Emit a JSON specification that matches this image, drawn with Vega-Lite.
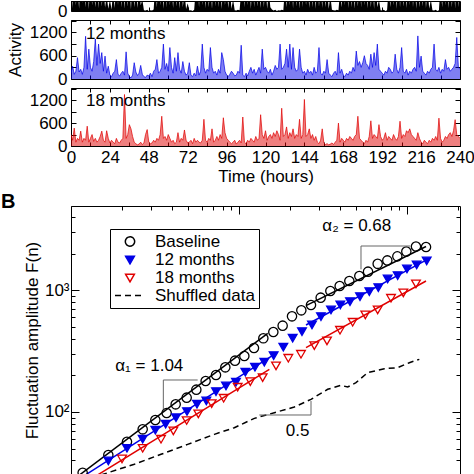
{
"$schema":"https://vega.github.io/schema/vega-lite/v6.json",
"padding":0,
"background":"white",
"bounds":"flush",
"spacing":9,
"config":{
 "font":"Liberation Sans",
 "view":{"stroke":"black","strokeWidth":1},
 "axis":{"domain":false,"grid":false,"ticks":true,"tickColor":"black","tickWidth":1,"tickSize":-5,"labelPadding":9,"labelFontSize":17,"labelColor":"black","labelFont":"Liberation Sans","titleFont":"Liberation Sans","titleFontSize":17,"titleFontWeight":"normal","titleColor":"black","labelFlush":false,"labelOverlap":false},
 "legend":{"labelFontSize":17,"labelFont":"Liberation Sans","labelColor":"black","padding":4,"strokeColor":"black","fillColor":"white","rowPadding":0,"labelOffset":9,"symbolStrokeWidth":1.5,"clipHeight":17,"symbolSize":900}
},
"datasets":{
 "ts":[
{"t":0,"a":900,"b":150,"c":300},{"t":1,"a":80,"b":330,"c":150},{"t":2,"a":1100,"b":120,"c":470},{"t":3,"a":150,"b":200,"c":100},{"t":4,"a":700,"b":550,"c":200},{"t":5,"a":60,"b":180,"c":150},{"t":6,"a":1200,"b":250,"c":390},{"t":7,"a":200,"b":120,"c":100},{"t":8,"a":800,"b":300,"c":200},{"t":9,"a":100,"b":1100,"c":150},
{"t":10,"a":950,"b":250,"c":520},{"t":11,"a":50,"b":770,"c":100},{"t":12,"a":1000,"b":300,"c":200},{"t":13,"a":150,"b":200,"c":300},{"t":14,"a":600,"b":450,"c":120},{"t":15,"a":100,"b":1030,"c":200},{"t":16,"a":900,"b":350,"c":100},{"t":17,"a":70,"b":900,"c":150},{"t":18,"a":1100,"b":400,"c":250},{"t":19,"a":120,"b":680,"c":390},
{"t":20,"a":700,"b":200,"c":150},{"t":21,"a":90,"b":590,"c":100},{"t":22,"a":400,"b":150,"c":400},{"t":23,"a":60,"b":330,"c":200},{"t":24,"a":300,"b":100,"c":80},{"t":25,"a":40,"b":60,"c":150},{"t":26,"a":500,"b":150,"c":100},{"t":27,"a":80,"b":200,"c":60},{"t":28,"a":900,"b":500,"c":200},{"t":29,"a":150,"b":120,"c":100},
{"t":30,"a":1100,"b":80,"c":80},{"t":31,"a":100,"b":150,"c":150},{"t":32,"a":800,"b":200,"c":200},{"t":33,"a":60,"b":100,"c":1350},{"t":34,"a":1000,"b":700,"c":200},{"t":35,"a":120,"b":150,"c":300},{"t":36,"a":700,"b":60,"c":560},{"t":37,"a":50,"b":30,"c":450},{"t":38,"a":900,"b":100,"c":250},{"t":39,"a":100,"b":420,"c":100},
{"t":40,"a":600,"b":180,"c":60},{"t":41,"a":80,"b":90,"c":30},{"t":42,"a":800,"b":150,"c":50},{"t":43,"a":150,"b":350,"c":100},{"t":44,"a":300,"b":120,"c":40},{"t":45,"a":20,"b":60,"c":80},{"t":46,"a":10,"b":40,"c":300},{"t":47,"a":30,"b":100,"c":430},{"t":48,"a":0,"b":80,"c":100},{"t":49,"a":20,"b":150,"c":60},
{"t":50,"a":10,"b":60,"c":80},{"t":51,"a":40,"b":200,"c":150},{"t":52,"a":700,"b":250,"c":100},{"t":53,"a":100,"b":500,"c":200},{"t":54,"a":1000,"b":150,"c":150},{"t":55,"a":150,"b":200,"c":300},{"t":56,"a":800,"b":300,"c":780},{"t":57,"a":60,"b":900,"c":200},{"t":58,"a":900,"b":250,"c":250},{"t":59,"a":100,"b":400,"c":150},
{"t":60,"a":1200,"b":200,"c":300},{"t":61,"a":150,"b":810,"c":200},{"t":62,"a":700,"b":300,"c":100},{"t":63,"a":80,"b":150,"c":150},{"t":64,"a":900,"b":550,"c":60},{"t":65,"a":120,"b":200,"c":100},{"t":66,"a":800,"b":680,"c":350},{"t":67,"a":60,"b":250,"c":100},{"t":68,"a":1000,"b":150,"c":200},{"t":69,"a":100,"b":450,"c":150},
{"t":70,"a":500,"b":200,"c":420},{"t":71,"a":50,"b":100,"c":150},{"t":72,"a":200,"b":150,"c":80},{"t":73,"a":10,"b":420,"c":100},{"t":74,"a":20,"b":100,"c":150},{"t":75,"a":0,"b":60,"c":60},{"t":76,"a":30,"b":150,"c":200},{"t":77,"a":600,"b":80,"c":100},{"t":78,"a":900,"b":330,"c":150},{"t":79,"a":100,"b":100,"c":100},
{"t":80,"a":1100,"b":200,"c":80},{"t":81,"a":150,"b":900,"c":150},{"t":82,"a":800,"b":300,"c":700},{"t":83,"a":70,"b":150,"c":150},{"t":84,"a":1000,"b":250,"c":100},{"t":85,"a":100,"b":200,"c":200},{"t":86,"a":700,"b":810,"c":150},{"t":87,"a":60,"b":300,"c":450},{"t":88,"a":900,"b":150,"c":100},{"t":89,"a":120,"b":200,"c":150},
{"t":90,"a":1200,"b":100,"c":250},{"t":91,"a":100,"b":250,"c":150},{"t":92,"a":800,"b":150,"c":300},{"t":93,"a":50,"b":680,"c":200},{"t":94,"a":900,"b":500,"c":740},{"t":95,"a":150,"b":200,"c":350},{"t":96,"a":700,"b":100,"c":200},{"t":97,"a":80,"b":60,"c":150},{"t":98,"a":600,"b":120,"c":100},{"t":99,"a":60,"b":200,"c":60},
{"t":100,"a":300,"b":150,"c":100},{"t":101,"a":20,"b":80,"c":150},{"t":102,"a":10,"b":100,"c":50},{"t":103,"a":30,"b":200,"c":100},{"t":104,"a":20,"b":150,"c":150},{"t":105,"a":500,"b":870,"c":80},{"t":106,"a":900,"b":100,"c":760},{"t":107,"a":100,"b":60,"c":100},{"t":108,"a":1100,"b":150,"c":60},{"t":109,"a":150,"b":80,"c":150},
{"t":110,"a":800,"b":200,"c":100},{"t":111,"a":60,"b":300,"c":200},{"t":112,"a":900,"b":150,"c":150},{"t":113,"a":100,"b":250,"c":100},{"t":114,"a":1000,"b":100,"c":250},{"t":115,"a":120,"b":200,"c":150},{"t":116,"a":700,"b":300,"c":200},{"t":117,"a":80,"b":150,"c":820},{"t":118,"a":900,"b":770,"c":300},{"t":119,"a":100,"b":250,"c":200},
{"t":120,"a":800,"b":300,"c":400},{"t":121,"a":60,"b":200,"c":150},{"t":122,"a":500,"b":150,"c":250},{"t":123,"a":100,"b":250,"c":300},{"t":124,"a":40,"b":100,"c":200},{"t":125,"a":10,"b":200,"c":350},{"t":126,"a":30,"b":350,"c":250},{"t":127,"a":0,"b":250,"c":400},{"t":128,"a":20,"b":300,"c":300},{"t":129,"a":10,"b":900,"c":150},
{"t":130,"a":30,"b":250,"c":990},{"t":131,"a":20,"b":300,"c":250},{"t":132,"a":600,"b":400,"c":300},{"t":133,"a":100,"b":770,"c":500},{"t":134,"a":1100,"b":300,"c":200},{"t":135,"a":150,"b":900,"c":350},{"t":136,"a":900,"b":250,"c":250},{"t":137,"a":70,"b":810,"c":450},{"t":138,"a":1000,"b":300,"c":200},{"t":139,"a":120,"b":200,"c":300},
{"t":140,"a":800,"b":250,"c":250},{"t":141,"a":60,"b":770,"c":700},{"t":142,"a":1200,"b":300,"c":200},{"t":143,"a":100,"b":150,"c":300},{"t":144,"a":900,"b":200,"c":1220},{"t":145,"a":150,"b":100,"c":250},{"t":146,"a":700,"b":250,"c":300},{"t":147,"a":80,"b":150,"c":450},{"t":148,"a":1000,"b":200,"c":200},{"t":149,"a":100,"b":100,"c":300},
{"t":150,"a":800,"b":300,"c":150},{"t":151,"a":60,"b":150,"c":250},{"t":152,"a":900,"b":200,"c":100},{"t":153,"a":120,"b":810,"c":60},{"t":154,"a":700,"b":150,"c":150},{"t":155,"a":80,"b":100,"c":450},{"t":156,"a":1000,"b":200,"c":80},{"t":157,"a":100,"b":150,"c":40},{"t":158,"a":600,"b":500,"c":60},{"t":159,"a":60,"b":150,"c":30},
{"t":160,"a":400,"b":100,"c":50},{"t":161,"a":30,"b":60,"c":80},{"t":162,"a":20,"b":150,"c":40},{"t":163,"a":10,"b":200,"c":100},{"t":164,"a":30,"b":100,"c":150},{"t":165,"a":20,"b":680,"c":600},{"t":166,"a":500,"b":150,"c":100},{"t":167,"a":100,"b":250,"c":200},{"t":168,"a":900,"b":100,"c":150},{"t":169,"a":150,"b":60,"c":100},
{"t":170,"a":1100,"b":150,"c":200},{"t":171,"a":80,"b":100,"c":150},{"t":172,"a":800,"b":200,"c":250},{"t":173,"a":100,"b":150,"c":200},{"t":174,"a":1000,"b":300,"c":150},{"t":175,"a":60,"b":200,"c":250},{"t":176,"a":700,"b":720,"c":300},{"t":177,"a":120,"b":350,"c":780},{"t":178,"a":900,"b":450,"c":200},{"t":179,"a":100,"b":300,"c":150},
{"t":180,"a":1200,"b":420,"c":100},{"t":181,"a":150,"b":600,"c":60},{"t":182,"a":800,"b":400,"c":150},{"t":183,"a":70,"b":350,"c":100},{"t":184,"a":900,"b":250,"c":250},{"t":185,"a":100,"b":640,"c":660},{"t":186,"a":700,"b":300,"c":200},{"t":187,"a":60,"b":680,"c":300},{"t":188,"a":1000,"b":350,"c":250},{"t":189,"a":100,"b":900,"c":200},
{"t":190,"a":300,"b":250,"c":560},{"t":191,"a":20,"b":200,"c":250},{"t":192,"a":10,"b":150,"c":150},{"t":193,"a":30,"b":100,"c":200},{"t":194,"a":0,"b":200,"c":350},{"t":195,"a":20,"b":150,"c":150},{"t":196,"a":600,"b":300,"c":250},{"t":197,"a":100,"b":250,"c":200},{"t":198,"a":1000,"b":150,"c":150},{"t":199,"a":150,"b":200,"c":300},
{"t":200,"a":800,"b":640,"c":200},{"t":201,"a":60,"b":250,"c":150},{"t":202,"a":1100,"b":150,"c":250},{"t":203,"a":100,"b":300,"c":650},{"t":204,"a":900,"b":810,"c":200},{"t":205,"a":120,"b":200,"c":300},{"t":206,"a":700,"b":150,"c":250},{"t":207,"a":80,"b":250,"c":400},{"t":208,"a":1000,"b":100,"c":350},{"t":209,"a":150,"b":200,"c":450},
{"t":210,"a":1200,"b":150,"c":300},{"t":211,"a":100,"b":250,"c":250},{"t":212,"a":800,"b":300,"c":200},{"t":213,"a":60,"b":200,"c":150},{"t":214,"a":900,"b":1110,"c":350},{"t":215,"a":100,"b":300,"c":200},{"t":216,"a":700,"b":590,"c":100},{"t":217,"a":120,"b":200,"c":60},{"t":218,"a":1000,"b":150,"c":150},{"t":219,"a":80,"b":100,"c":100},
{"t":220,"a":600,"b":200,"c":60},{"t":221,"a":60,"b":150,"c":150},{"t":222,"a":300,"b":250,"c":100},{"t":223,"a":20,"b":300,"c":200},{"t":224,"a":10,"b":900,"c":150},{"t":225,"a":30,"b":250,"c":250},{"t":226,"a":0,"b":200,"c":150},{"t":227,"a":20,"b":300,"c":730},{"t":228,"a":700,"b":150,"c":200},{"t":229,"a":100,"b":250,"c":100},
{"t":230,"a":900,"b":200,"c":150},{"t":231,"a":150,"b":500,"c":250},{"t":232,"a":1100,"b":250,"c":200},{"t":233,"a":80,"b":300,"c":300},{"t":234,"a":800,"b":200,"c":350},{"t":235,"a":100,"b":250,"c":250},{"t":236,"a":1000,"b":300,"c":400},{"t":237,"a":60,"b":400,"c":690},{"t":238,"a":1200,"b":1070,"c":300},{"t":239,"a":100,"b":300,"c":250},
{"t":240,"a":900,"b":250,"c":200}
 ],
 "dfa":[
{"s":"Baseline","n":1.173,"F":31.7},{"s":"Baseline","n":1.668,"F":44.3},{"s":"Baseline","n":2.154,"F":57.0},{"s":"Baseline","n":2.671,"F":72.0},{"s":"Baseline","n":3.177,"F":86.0},{"s":"Baseline","n":3.71,"F":98.1},{"s":"Baseline","n":4.198,"F":115.6},{"s":"Baseline","n":4.881,"F":131.2},{"s":"Baseline","n":5.572,"F":152.6},{"s":"Baseline","n":6.331,"F":179.8},{"s":"Baseline","n":7.297,"F":201.4},{"s":"Baseline","n":8.291,"F":232.8},{"s":"Baseline","n":9.467,"F":264.1},{"s":"Baseline","n":10.76,"F":288.6},{"s":"Baseline","n":12.28,"F":335.7},{"s":"Baseline","n":13.96,"F":403.1},{"s":"Baseline","n":16.01,"F":454.3},{"s":"Baseline","n":18.19,"F":512.2},{"s":"Baseline","n":20.68,"F":611.1},{"s":"Baseline","n":23.5,"F":684.5},{"s":"Baseline","n":26.83,"F":757.1},{"s":"Baseline","n":30.63,"F":869.8},{"s":"Baseline","n":34.98,"F":986.8},{"s":"Baseline","n":39.74,"F":1085},{"s":"Baseline","n":45.37,"F":1192},{"s":"Baseline","n":52.03,"F":1311},{"s":"Baseline","n":58.62,"F":1423},{"s":"Baseline","n":66.91,"F":1650},{"s":"Baseline","n":76.37,"F":1760},{"s":"Baseline","n":87.6,"F":1900},{"s":"Baseline","n":99.09,"F":2080},{"s":"Baseline","n":113.1,"F":2290},{"s":"Baseline","n":129.8,"F":2270},
{"s":"12 months","n":1.668,"F":40.1},{"s":"12 months","n":2.154,"F":50.9},{"s":"12 months","n":2.671,"F":60.4},{"s":"12 months","n":3.177,"F":71.6},{"s":"12 months","n":3.66,"F":80.2},{"s":"12 months","n":4.217,"F":90.9},{"s":"12 months","n":4.904,"F":102},{"s":"12 months","n":5.623,"F":117.1},{"s":"12 months","n":6.39,"F":124.7},{"s":"12 months","n":7.297,"F":148.8},{"s":"12 months","n":8.368,"F":165.6},{"s":"12 months","n":9.596,"F":177.6},{"s":"12 months","n":10.91,"F":214.5},{"s":"12 months","n":12.45,"F":235.8},{"s":"12 months","n":14.15,"F":259.2},{"s":"12 months","n":16.08,"F":294.1},{"s":"12 months","n":18.36,"F":344.2},{"s":"12 months","n":20.87,"F":408.1},{"s":"12 months","n":23.71,"F":463.1},{"s":"12 months","n":27.2,"F":525.3},{"s":"12 months","n":30.76,"F":615},{"s":"12 months","n":35.29,"F":697.7},{"s":"12 months","n":40.11,"F":766.9},{"s":"12 months","n":45.79,"F":817},{"s":"12 months","n":52.52,"F":898},{"s":"12 months","n":59.68,"F":987},{"s":"12 months","n":67.51,"F":1064},{"s":"12 months","n":76.72,"F":1254},{"s":"12 months","n":88.0,"F":1336},{"s":"12 months","n":100.0,"F":1515},{"s":"12 months","n":114.2,"F":1634},{"s":"12 months","n":131.0,"F":1763},
{"s":"18 months","n":2.012,"F":41.6},{"s":"18 months","n":2.671,"F":50.9},{"s":"18 months","n":3.434,"F":60.4},{"s":"18 months","n":4.066,"F":70.7},{"s":"18 months","n":4.881,"F":86.0},{"s":"18 months","n":5.727,"F":97.5},{"s":"18 months","n":6.877,"F":118.6},{"s":"18 months","n":8.103,"F":131.2},{"s":"18 months","n":9.82,"F":161.5},{"s":"18 months","n":11.68,"F":179.8},{"s":"18 months","n":13.83,"F":193.9},{"s":"18 months","n":16.61,"F":241.8},{"s":"18 months","n":19.66,"F":279.6},{"s":"18 months","n":23.39,"F":301.6},{"s":"18 months","n":28.08,"F":355.2},{"s":"18 months","n":33.4,"F":388},{"s":"18 months","n":39.93,"F":474.8},{"s":"18 months","n":47.5,"F":552.4},{"s":"18 months","n":56.49,"F":634.6},{"s":"18 months","n":66.91,"F":697.7},{"s":"18 months","n":80.32,"F":869.8},{"s":"18 months","n":95.11,"F":962.3},{"s":"18 months","n":113.1,"F":1141},
{"s":"Shuffled data","n":1.509,"F":30.4},{"s":"Shuffled data","n":2.382,"F":37.2},{"s":"Shuffled data","n":3.434,"F":44.9},{"s":"Shuffled data","n":4.948,"F":54.2},{"s":"Shuffled data","n":7.132,"F":65.5},{"s":"Shuffled data","n":9.38,"F":74.3},{"s":"Shuffled data","n":12.34,"F":88.7},{"s":"Shuffled data","n":16.23,"F":98.7},{"s":"Shuffled data","n":21.35,"F":109.9},{"s":"Shuffled data","n":26.83,"F":127.1},{"s":"Shuffled data","n":33.71,"F":153.6},{"s":"Shuffled data","n":40.46,"F":165.6},{"s":"Shuffled data","n":44.36,"F":160.4},{"s":"Shuffled data","n":49.71,"F":174.2},{"s":"Shuffled data","n":58.33,"F":210.5},{"s":"Shuffled data","n":73.3,"F":227},{"s":"Shuffled data","n":88.0,"F":231.3},{"s":"Shuffled data","n":103.2,"F":254.2},{"s":"Shuffled data","n":118.4,"F":270.8}
 ],
 "fits":[
{"s":"Baseline","g":"b1","n":1.1,"F":29.7},{"s":"Baseline","g":"b1","n":14.82,"F":443},
{"s":"Baseline","g":"b2","n":25.05,"F":748.7},{"s":"Baseline","g":"b2","n":129.8,"F":2290},
{"s":"12 months","g":"m1","n":1.228,"F":30.6},{"s":"12 months","g":"m1","n":16.23,"F":296.9},
{"s":"12 months","g":"m2","n":25.05,"F":518.6},{"s":"12 months","g":"m2","n":135.8,"F":1831},
{"s":"18 months","g":"r1","n":1.441,"F":30.4},{"s":"18 months","g":"r1","n":15.16,"F":224.1},
{"s":"18 months","g":"r2","n":25.05,"F":337.8},{"s":"18 months","g":"r2","n":129.8,"F":1192}
 ],
 "br":[
{"n":3.545,"n2":5.675,"F":183.2,"F2":183.2},{"n":3.545,"n2":3.545,"F":105.2,"F2":183.2},
{"n":53.24,"n2":104.7,"F":2312,"F2":2312},{"n":53.24,"n2":53.24,"F":1487,"F2":2312},
{"n":13.21,"n2":26.83,"F":94.5,"F2":94.5},{"n":26.83,"n2":26.83,"F":94.5,"F2":123.1}
 ],
 "ann":[
{"label":"α₁ = 1.04","n":2.925,"F":238.8},{"label":"α₂ = 0.68","n":50.25,"F":3373},{"label":"0.5","n":22.35,"F":69.8}
 ]
},
"vconcat":[
{
 "width":389,"height":10,
 "data":{"name":"ts"},
 "mark":{"type":"area","color":"black","opacity":1,"clip":true},
 "encoding":{
  "x":{"field":"t","type":"quantitative","scale":{"domain":[0,240],"nice":false},"axis":{"labels":false,"title":null,"values":[0,12,24,36,48,60,72,84,96,108,120,132,144,156,168,180,192,204,216,228,240],"tickSize":-4}},
  "y":{"field":"a","type":"quantitative","scale":{"domain":[0,260],"nice":false},"axis":{"values":[0],"title":null,"tickSize":0,"labelPadding":4}}
 }
},
{
 "width":389,"height":59,
 "resolve":{"axis":{"x":"independent","y":"independent"}},
 "layer":[
  {"data":{"name":"ts"},"mark":{"type":"area","color":"#0000e6","opacity":0.5,"clip":true},
   "encoding":{
    "x":{"field":"t","type":"quantitative","scale":{"domain":[0,240],"nice":false},"axis":{"orient":"bottom","labels":false,"title":null,"values":[0,12,24,36,48,60,72,84,96,108,120,132,144,156,168,180,192,204,216,228,240],"tickSize":-4}},
    "y":{"field":"b","type":"quantitative","scale":{"domain":[0,1520],"nice":false},"axis":{"orient":"left","values":[0,300,600,900,1200,1500],"format":"d","labelExpr":"datum.value % 600 === 0 ? datum.label : ''","title":"Activity","titlePadding":5}}
   }},
  {"data":{"name":"ts"},"mark":{"type":"line","color":"#0000e6","strokeWidth":0.7,"clip":true},
   "encoding":{
    "x":{"field":"t","type":"quantitative","scale":{"domain":[0,240],"nice":false},"axis":null},
    "y":{"field":"b","type":"quantitative","scale":{"domain":[0,1520],"nice":false},"axis":null}
   }},
  {"data":{"values":[{"label":"12 months","t":9.3,"v":1160}]},"mark":{"type":"text","align":"left","baseline":"middle","fontSize":17,"color":"black"},
   "encoding":{
    "x":{"field":"t","type":"quantitative","scale":{"domain":[0,240],"nice":false},"axis":{"orient":"top","labels":false,"title":null,"values":[0,12,24,36,48,60,72,84,96,108,120,132,144,156,168,180,192,204,216,228,240],"tickSize":-4}},
    "y":{"field":"v","type":"quantitative","scale":{"domain":[0,1520],"nice":false},"axis":{"orient":"right","labels":false,"title":null,"values":[0,300,600,900,1200,1500],"tickSize":-5}},
    "text":{"field":"label"}
   }}
 ]
},
{
 "width":389,"height":58,
 "resolve":{"axis":{"x":"independent","y":"independent"}},
 "layer":[
  {"data":{"name":"ts"},"mark":{"type":"area","color":"#e00000","opacity":0.5,"clip":true},
   "encoding":{
    "x":{"field":"t","type":"quantitative","scale":{"domain":[0,240],"nice":false},"axis":{"orient":"bottom","values":[0,12,24,36,48,60,72,84,96,108,120,132,144,156,168,180,192,204,216,228,240],"format":"d","labelExpr":"datum.value % 24 === 0 ? datum.label : ''","tickSize":-4,"labelPadding":7,"title":"Time (hours)","titlePadding":3}},
    "y":{"field":"c","type":"quantitative","scale":{"domain":[0,1520],"nice":false},"axis":{"orient":"left","values":[0,300,600,900,1200,1500],"format":"d","labelExpr":"datum.value % 600 === 0 ? datum.label : ''","title":null}}
   }},
  {"data":{"name":"ts"},"mark":{"type":"line","color":"#e00000","strokeWidth":0.7,"clip":true},
   "encoding":{
    "x":{"field":"t","type":"quantitative","scale":{"domain":[0,240],"nice":false},"axis":null},
    "y":{"field":"c","type":"quantitative","scale":{"domain":[0,1520],"nice":false},"axis":null}
   }},
  {"data":{"values":[{"label":"18 months","t":9.3,"v":1182}]},"mark":{"type":"text","align":"left","baseline":"middle","fontSize":17,"color":"black"},
   "encoding":{
    "x":{"field":"t","type":"quantitative","scale":{"domain":[0,240],"nice":false},"axis":{"orient":"top","labels":false,"title":null,"values":[0,12,24,36,48,60,72,84,96,108,120,132,144,156,168,180,192,204,216,228,240],"tickSize":-4}},
    "y":{"field":"v","type":"quantitative","scale":{"domain":[0,1520],"nice":false},"axis":{"orient":"right","labels":false,"title":null,"values":[0,300,600,900,1200,1500],"tickSize":-5}},
    "text":{"field":"label"}
   }}
 ]
},
{
 "width":389,"height":42,
 "data":{"values":[{}]},
 "mark":{"type":"point","opacity":0},
 "encoding":{},
 "view":{"stroke":null}
},
{
 "width":389,"height":268,
 "title":{"text":"B","anchor":"start","frame":"group","fontSize":20,"fontWeight":"bold","dx":-70,"dy":17,"offset":-5,"baseline":"alphabetic","color":"black","font":"Liberation Sans"},
 "resolve":{"axis":{"x":"independent","y":"independent"}},
 "layer":[
  {"data":{"name":"fits"},"mark":{"type":"line","strokeWidth":1.5,"clip":true},
   "encoding":{
    "x":{"field":"n","type":"quantitative","scale":{"type":"log","domain":[1,206.8],"nice":false},"axis":{"orient":"top","values":[1,10,100],"tickSize":-8,"labels":false,"title":null}},
    "y":{"field":"F","type":"quantitative","scale":{"type":"log","domain":[30.94,4928],"nice":false},"axis":{"orient":"left","values":[100,1000],"tickSize":-8,"labelPadding":10,"labelExpr":"datum.value == 100 ? '10²' : '10³'","title":"Fluctuation amplitude F(n)","titlePadding":3}},
    "stroke":{"field":"s","type":"nominal","scale":{"domain":["Baseline","12 months","18 months","Shuffled data"],"range":["black","#0000e6","#e00000","black"]},"legend":{"title":null,"orient":"none","legendX":39,"legendY":228}},
    "detail":{"field":"g"}
   }},
  {"data":{"name":"dfa"},"transform":[{"filter":"datum.s === 'Shuffled data'"}],"mark":{"type":"line","strokeWidth":1.5,"clip":true},
   "encoding":{
    "x":{"field":"n","type":"quantitative","scale":{"type":"log","domain":[1,206.8],"nice":false},"axis":{"orient":"top","values":[2,3,4,5,6,7,8,9,20,30,40,50,60,70,80,90,200],"tickSize":-4,"labels":false,"title":null}},
    "y":{"field":"F","type":"quantitative","scale":{"type":"log","domain":[30.94,4928],"nice":false},"axis":{"orient":"left","values":[40,50,60,70,80,90,200,300,400,500,600,700,800,900,2000,3000,4000],"tickSize":-4,"labels":false,"title":null}},
    "stroke":{"field":"s","type":"nominal","scale":{"domain":["Baseline","12 months","18 months","Shuffled data"],"range":["black","#0000e6","#e00000","black"]},"legend":{"title":null,"orient":"none","legendX":39,"legendY":228}},
    "strokeDash":{"field":"s","type":"nominal","scale":{"domain":["Baseline","12 months","18 months","Shuffled data"],"range":[[1,0],[1,0],[1,0],[6,4]]},"legend":{"title":null,"orient":"none","legendX":39,"legendY":228}}
   }},
  {"data":{"name":"dfa"},"transform":[{"filter":"datum.s !== 'Shuffled data'"}],"mark":{"type":"point","size":900,"strokeWidth":1.3,"opacity":1},
   "encoding":{
    "x":{"field":"n","type":"quantitative","scale":{"type":"log","domain":[1,206.8],"nice":false},"axis":null},
    "y":{"field":"F","type":"quantitative","scale":{"type":"log","domain":[30.94,4928],"nice":false},"axis":{"orient":"right","values":[100,1000],"tickSize":-8,"labels":false,"title":null}},
    "stroke":{"field":"s","type":"nominal","scale":{"domain":["Baseline","12 months","18 months","Shuffled data"],"range":["black","#0000e6","#e00000","black"]},"legend":{"title":null,"orient":"none","legendX":39,"legendY":228}},
    "fill":{"field":"s","type":"nominal","scale":{"domain":["Baseline","12 months","18 months","Shuffled data"],"range":["transparent","#0000e6","transparent","transparent"]},"legend":{"title":null,"orient":"none","legendX":39,"legendY":228}},
    "shape":{"field":"s","type":"nominal","scale":{"domain":["Baseline","12 months","18 months","Shuffled data"],"range":["M-0.31,0A0.31,0.31,0,1,0,0.31,0A0.31,0.31,0,1,0,-0.31,0Z","M-0.29,-0.21L0.29,-0.21L0,0.29Z","M-0.29,-0.21L0.29,-0.21L0,0.29Z","M-1,0L1,0"]},"legend":{"title":null,"orient":"none","legendX":39,"legendY":228}}
   }},
  {"data":{"name":"br"},"mark":{"type":"rule","color":"#666666","strokeWidth":1},
   "encoding":{
    "x":{"field":"n","type":"quantitative","scale":{"type":"log","domain":[1,206.8],"nice":false},"axis":null},
    "x2":{"field":"n2"},
    "y":{"field":"F","type":"quantitative","scale":{"type":"log","domain":[30.94,4928],"nice":false},"axis":{"orient":"right","values":[40,50,60,70,80,90,200,300,400,500,600,700,800,900,2000,3000,4000],"tickSize":-4,"labels":false,"title":null}},
    "y2":{"field":"F2"}
   }},
  {"data":{"name":"ann"},"mark":{"type":"text","fontSize":17,"align":"center","baseline":"middle","color":"black"},
   "encoding":{
    "x":{"field":"n","type":"quantitative","scale":{"type":"log","domain":[1,206.8],"nice":false},"axis":null},
    "y":{"field":"F","type":"quantitative","scale":{"type":"log","domain":[30.94,4928],"nice":false},"axis":null},
    "text":{"field":"label"}
   }}
 ]
}
]
}
